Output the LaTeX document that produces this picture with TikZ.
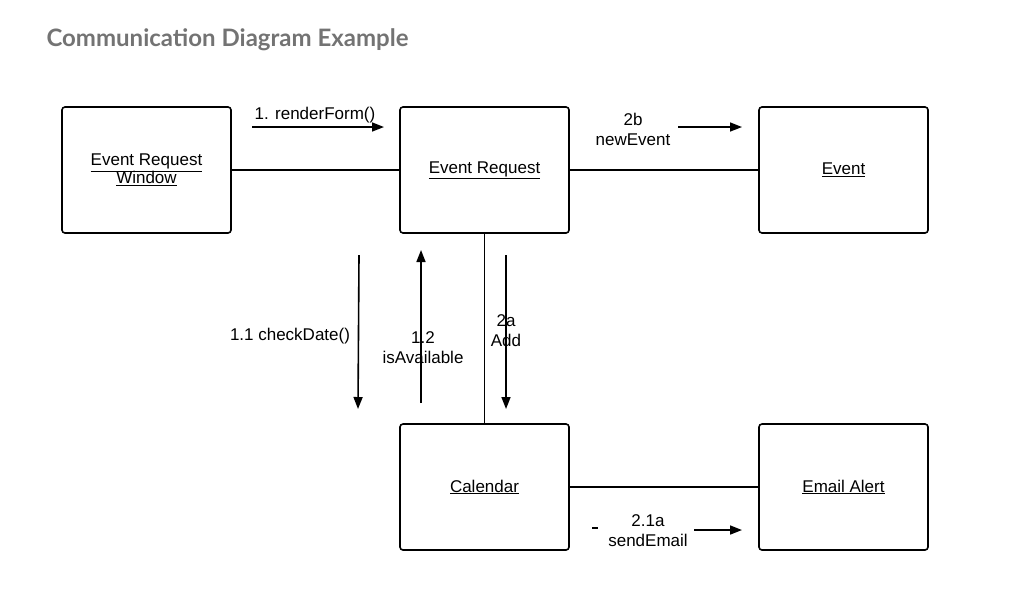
\documentclass[tikz,border=0pt]{standalone}
\usepackage{fontspec}
\setmainfont{Liberation Sans}
\newfontfamily\titlefont{Lato}
\usetikzlibrary{arrows.meta}
\begin{document}
\begin{tikzpicture}[x=1pt,y=-1pt,
  box/.style={draw,line width=1.6pt,rounded corners=3pt,minimum width=169pt,minimum height=126pt,inner sep=0pt,font=\fontsize{17}{20}\selectfont,align=center},
  conn/.style={line width=1.6pt},
  msg/.style={line width=1.6pt,-{Triangle[length=12pt,width=9pt]}},
  lab/.style={font=\fontsize{17}{20}\selectfont,align=center,inner sep=0pt}]
\useasboundingbox (0,0) rectangle (1024,590);
\node[anchor=west,text=black!55,font=\titlefont\bfseries\fontsize{24}{28}\selectfont] (title) at (43,40) {Communication Diagram Example};
\node[box] (erw) at (146.5,170) {\underline{Event Request}\\[-2pt]\underline{Window}};
\node[box] (er) at (484.5,170) {\underline{Event Request}};
\node[box] (ev) at (843.5,170) {\underline{Event}};
\node[box] (cal) at (484.5,487) {\underline{Calendar}};
\node[box] (em) at (843.5,487) {\underline{Email Alert}};
\draw[conn] (erw) -- (er);
\draw[conn] (er) -- (ev);
\draw[conn] (er) -- (cal);
\draw[conn] (cal) -- (em);
% messages
\coordinate (a1) at (252,127); \coordinate (a2) at (384,127);
\draw[msg] (a1) -- (a2);
\node[lab] (l1) at (315,115) {1. renderForm()};
\coordinate (b1) at (678,127); \coordinate (b2) at (742,127);
\draw[msg] (b1) -- (b2);
\node[lab] (l2) at (633,129) {2b\\newEvent};
\coordinate (c1) at (359,255); \coordinate (c2) at (358,409);
\draw[msg] (c1) -- (c2);
\node[lab] (l3) at (290,336) {1.1 checkDate()};
\coordinate (d1) at (421,403); \coordinate (d2) at (421,250);
\draw[msg] (d1) -- (d2);
\node[lab] (l4) at (423,348) {1.2\\isAvailable};
\coordinate (e1) at (506,255); \coordinate (e2) at (506,409);
\draw[msg] (e1) -- (e2);
\node[lab] (l5) at (506,331) {2a\\Add};
\coordinate (f1) at (694,530); \coordinate (f2) at (742,530);
\draw[msg] (f1) -- (f2);
\node[lab] (l6) at (648,531) {2.1a\\sendEmail};
\coordinate (g1) at (592,528); \coordinate (g2) at (598,528);
\draw[line width=1.2pt] (g1) -- (g2);
\end{tikzpicture}
\end{document}
